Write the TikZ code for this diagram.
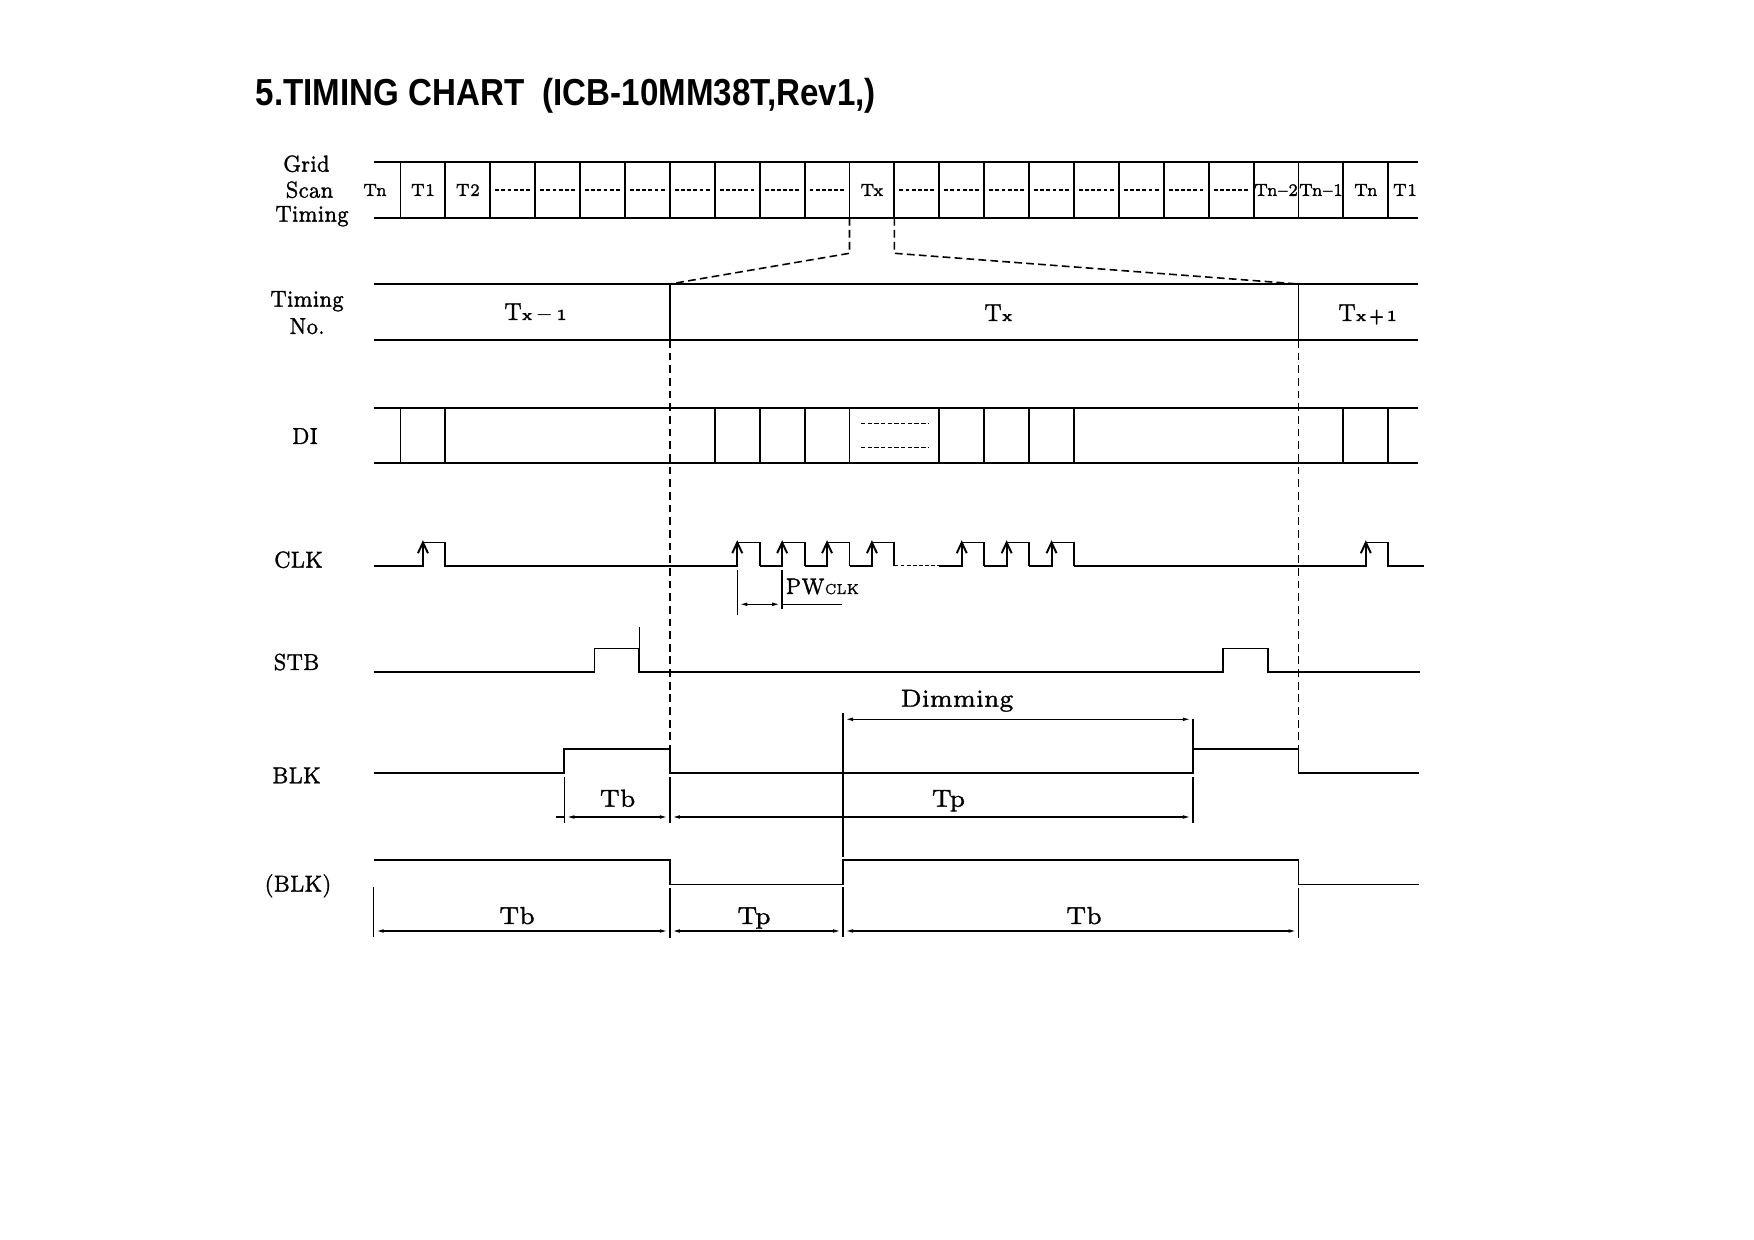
\documentclass[tikz,border=0pt]{standalone}
\usepackage{fontspec}
\setmainfont{Latin Modern Roman}[RawFeature={embolden=1.2}]
\newfontfamily\condrm{Latin Modern Roman}[FakeStretch=0.85, RawFeature={embolden=1.2}]
\newfontfamily\labrm{Latin Modern Roman}[FakeStretch=0.88, RawFeature={embolden=1.2}]
\newfontfamily\titlefont{Liberation Sans}[FakeStretch=0.88]
\usetikzlibrary{arrows.meta}
\newcommand\gx[1]{\fpeval{400.5+44.9*(#1)}}
\newcommand\smtxt[1]{{\condrm\fontsize{4.4}{5}\selectfont\bfseries #1}}
\tikzset{
 sig/.style={line width=0.55pt, line join=miter},
 extln/.style={line width=0.4pt},
 dimln/.style={line width=0.45pt, {Latex[length=0.1cm,width=0.035cm]}-{Latex[length=0.1cm,width=0.035cm]}},
 zoomdash/.style={line width=0.45pt, dash pattern=on 2.2pt off 1.2pt},
 vdash/.style={line width=0.45pt, dash pattern=on 2.2pt off 1.4pt},
 celldash/.style={line width=0.4pt, dash pattern=on 1.1pt off 0.65pt},
 lbl/.style={font=\labrm\fontsize{6.6}{7}\selectfont, inner sep=0pt, anchor=base},
 dimtxt/.style={font=\fontsize{7}{8}\selectfont, inner sep=0pt, anchor=base},
 celltxt/.style={font=\condrm\fontsize{5}{5}\selectfont, inner sep=0pt},
 tnum/.style={font=\labrm\fontsize{7}{8}\selectfont, inner sep=0pt, anchor=base},
}
\begin{document}
\begin{tikzpicture}[x=0.01cm,y=-0.01cm]
\fill[white] (0,0) rectangle (1754,1240);
\useasboundingbox (0,0) rectangle (1754,1240);

% title
\node[anchor=base west, inner sep=0pt, font=\titlefont\bfseries\fontsize{10.7}{12}\selectfont] (title) at (255,106) {5.TIMING CHART\ \ (ICB-10MM38T,Rev1,)};

% row labels
\node[lbl] (lgrid) at (306.4,171.7) {Grid};
\node[lbl] (lscan) at (309.5,197.7) {Scan};
\node[lbl] (ltim) at (312,221.7) {Timing};
\node[lbl] (ltn1) at (307,306.7) {Timing};
\node[lbl] (ltn2) at (307,334) {No.};
\node[lbl] (ldi) at (305,444) {DI};
\node[lbl] (lclk) at (298.5,567.7) {CLK};
\node[lbl] (lstb) at (296.5,670) {STB};
\node[lbl] (lblk) at (296.5,783.3) {BLK};
\node[lbl] (lblkb) at (298,891.7) {(BLK)};

% grid scan timing row
\draw[sig] (373.6,162) -- (1418.4,162) (373.6,218) -- (1418.4,218);
\foreach \i in {0,...,22} \draw[sig] (\gx{\i},162) -- (\gx{\i},218);
\node[celltxt] (gtn0) at (375,190) {Tn};
\node[celltxt] (gt1) at (\gx{0.5},190) {T1};
\node[celltxt] (gt2) at (\gx{1.5},190) {T2};
\node[celltxt] (gtx) at (\gx{10.5},190) {Tx};
\node[celltxt] (gtn2) at (\gx{19.5},190) {Tn\textendash2};
\node[celltxt] (gtn1) at (\gx{20.5},190) {Tn\textendash1};
\node[celltxt] (gtn) at (\gx{21.5},190) {Tn};
\node[celltxt] (gt1b) at (1405,190) {T1};
\foreach \i in {2,...,9} \draw[celldash] ({\gx{\i}+5},190) -- ({\gx{\i+1}-4},190);
\foreach \i in {11,...,18} \draw[celldash] ({\gx{\i}+5},190) -- ({\gx{\i+1}-4},190);

% zoom lines
\draw[zoomdash] (\gx{10},218) -- (\gx{10},253.3) -- (\gx{6},284);
\draw[zoomdash] (\gx{11},218) -- (\gx{11},253.3) -- (\gx{20},284);

% timing no. row
\draw[sig] (373.6,284) -- (1418.4,284) (373.6,340) -- (1418.4,340);
\draw[sig] (\gx{6},284) -- (\gx{6},340) (\gx{20},284) -- (\gx{20},340);
\node[tnum] (tprev) at (535.4,320) {T\smtxt{x\,$-$\,1}};
\node[tnum] (tcur) at (998.3,321) {T\smtxt{x}};
\node[tnum] (tnext) at (1367.5,321) {T\smtxt{x\,+\,1}};

% DI row
\draw[sig] (373.6,408.3) -- (1418.4,408.3) (373.6,463.3) -- (1418.4,463.3);
\foreach \i in {0,1,7,8,9,10,12,13,14,15,21,22} \draw[sig] (\gx{\i},408.3) -- (\gx{\i},463.3);
\draw[celldash, dash pattern=on 1.25pt off 0.65pt] (861,423.3) -- (929,423.3) (861,447.3) -- (929,447.3);

% CLK
\draw[sig] (373.6,565.7) -- (\gx{0.5},565.7) -- (\gx{0.5},542.5) -- (\gx{1},542.5) -- (\gx{1},565.7) -- (\gx{7.5},565.7);
\foreach \c in {7,8,9,10,12,13,14}
  \draw[sig] (\gx{\c},565.7) -- (\gx{\c+0.5},565.7) -- (\gx{\c+0.5},542.5) -- (\gx{\c+1},542.5) -- (\gx{\c+1},565.7);
\draw[celldash] (\gx{11},565.7) -- (\gx{12.5},565.7);
\draw[sig] (\gx{15},565.7) -- (\gx{21.5},565.7) -- (\gx{21.5},542.5) -- (\gx{22},542.5) -- (\gx{22},565.7) -- (1424,565.7);
\foreach \c in {0,7,8,9,10,12,13,14,21}
  \draw[sig] ({\gx{\c+0.5}-5},553.2) -- (\gx{\c+0.5},542.5) -- ({\gx{\c+0.5}+5},553.2);

% PW_CLK
\draw[extln] (\gx{7.5},570) -- (\gx{7.5},615);
\draw[extln] (\gx{8.5},570) -- (\gx{8.5},609);
\draw[dimln] (\gx{7.5},604.3) -- (\gx{8.5},604.3);
\draw[extln] (\gx{8.5},604.3) -- (842,604.3);
\node[anchor=base west, inner sep=0pt, font=\condrm\fontsize{6.4}{7}\selectfont] (pw) at (785,594) {PW{\fontsize{4.1}{5}\selectfont CLK}};

% STB
\draw[sig] (373.6,672) -- (\gx{4.32},672) -- (\gx{4.32},648.5) -- (\gx{5.32},648.5) -- (\gx{5.32},672) -- (\gx{18.32},672) -- (\gx{18.32},648.5) -- (\gx{19.32},648.5) -- (\gx{19.32},672) -- (1419.8,672);
\draw[extln] (\gx{5.32},627) -- (\gx{5.32},648.5);

% dashed verticals
\draw[vdash] (\gx{6},340) -- (\gx{6},749);
\draw[vdash] (\gx{20},340) -- (\gx{20},749);

% BLK
\draw[sig] (373.6,773) -- (564.3,773) -- (564.3,749) -- (\gx{6},749) -- (\gx{6},773) -- (1192.9,773) -- (1192.9,749) -- (\gx{20},749) -- (\gx{20},773) -- (1419,773);
\draw[extln] (564.3,777) -- (564.3,823);
\draw[extln] (\gx{6},777) -- (\gx{6},823);
\draw[extln] (1192.9,777) -- (1192.9,823);
\draw[extln] (556,817) -- (564.3,817);
\draw[dimln] (564.3,817) -- (\gx{6},817);
\draw[dimln] (\gx{6},817) -- (1192.9,817);
\node[dimtxt] (tb1) at (617.6,806.7) {Tb};
\node[dimtxt] (tp1) at (948.5,806.7) {Tp};

% Dimming
\draw[extln] (843,713) -- (843,857);
\draw[extln] (1192.9,719.3) -- (1192.9,749);
\draw[dimln] (843,719.3) -- (1192.9,719.3);
\node[dimtxt] (dimm) at (957,706.7) {Dimming};

% (BLK)
\draw[sig] (373.6,860) -- (\gx{6},860) -- (\gx{6},884.5) -- (843,884.5) -- (843,860) -- (\gx{20},860) -- (\gx{20},884.5) -- (1419,884.5);
\draw[extln] (373.6,887) -- (373.6,937);
\draw[extln] (\gx{6},888) -- (\gx{6},938);
\draw[extln] (843,887) -- (843,937);
\draw[extln] (\gx{20},888) -- (\gx{20},938);
\draw[dimln] (373.6,931) -- (\gx{6},931);
\draw[dimln] (\gx{6},931) -- (843,931);
\draw[dimln] (843,931) -- (\gx{20},931);
\node[dimtxt] (tb2) at (517,924) {Tb};
\node[dimtxt] (tp2) at (754,924) {Tp};
\node[dimtxt] (tb3) at (1084,924) {Tb};
\end{tikzpicture}
\end{document}
